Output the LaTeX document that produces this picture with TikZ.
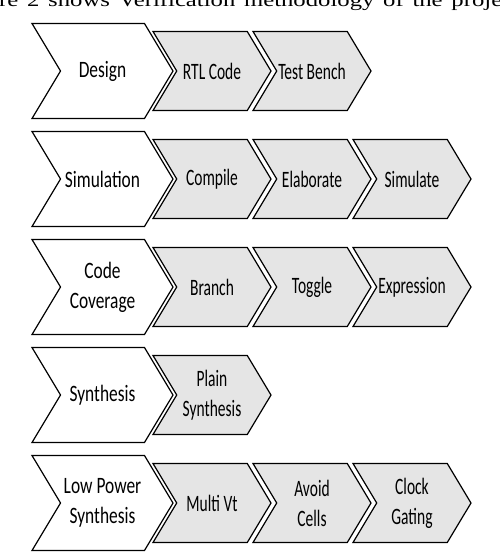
\documentclass[tikz,border=0pt]{standalone}
\usepackage{fontspec}
\usetikzlibrary{shapes.symbols}
\newfontfamily\chevfont[FakeStretch=0.74]{Carlito}
\newfontfamily\taskfont[FakeStretch=0.66]{Carlito}
\newfontfamily\capfont[FakeStretch=1.3]{Liberation Serif}
\begin{document}
\begin{tikzpicture}[x=1pt,y=-1pt,
    stage/.style={signal, signal to=east, signal from=west, signal pointer angle=118,
        draw, line width=1.2pt, fill=white, inner sep=0pt, align=center,
        minimum width=141pt, minimum height=95pt,
        font=\chevfont\fontsize{23.5}{30}\selectfont},
    task/.style={stage, fill=black!10, minimum width=118pt, minimum height=79pt,
        font=\taskfont\fontsize{23.5}{30}\selectfont}]
    \useasboundingbox (0,0) rectangle (500,552);
    \clip (0,0) rectangle (500,552);
    \node[anchor=base west, inner sep=0pt, font=\capfont\fontsize{19}{22}\selectfont] (caption) at (-1,6)
        {\makebox[503pt][s]{re 2 shows Verification methodology of the proje}};
    % design
    \node[stage] (design) at (102.5,71) {Design};
    \node[task] (rtl)   at (212,71) {RTL Code};
    \node[task] (bench) at (312,71) {Test Bench};
    % simulation
    \node[stage] (simulation) at (102.5,179) {Simulation};
    \node[task] (compile)   at (212,179) {Compile};
    \node[task] (elaborate) at (312,179) {Elaborate};
    \node[task] (simulate)  at (412,179) {Simulate};
    % code coverage
    \node[stage] (coverage) at (102.5,287) {Code\\Coverage};
    \node[task] (branch)     at (212,287) {Branch};
    \node[task] (toggle)     at (312,287) {Toggle};
    \node[task] (expression) at (412,287) {Expression};
    % synthesis
    \node[stage] (synthesis) at (102.5,395) {Synthesis};
    \node[task] (plain) at (212,395) {Plain\\Synthesis};
    % low power synthesis
    \node[stage] (lowpower) at (102.5,503) {Low Power\\Synthesis};
    \node[task] (multivt)     at (212,503) {Multi Vt};
    \node[task] (avoid)       at (312,503) {Avoid\\Cells};
    \node[task] (clockgating) at (412,503) {Clock\\Gating};
\end{tikzpicture}
\end{document}
